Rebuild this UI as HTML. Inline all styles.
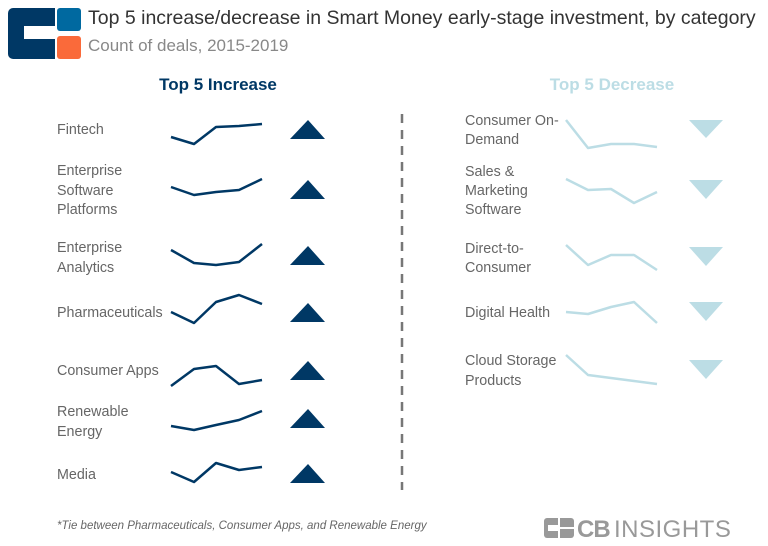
<!DOCTYPE html>
<html><head><meta charset="utf-8"><style>
body{margin:0;width:768px;height:546px;background:#fff;overflow:hidden;font-family:"Liberation Sans",sans-serif}
</style></head><body>
<svg width="768" height="546" xmlns="http://www.w3.org/2000/svg" style="position:absolute;left:0;top:0">
<rect x="8" y="8" width="47" height="51" rx="5" fill="#003865"/>
<rect x="37" y="8" width="20" height="51" fill="#003865"/>
<rect x="24" y="26" width="33" height="13" fill="#fff"/>
<rect x="55" y="8" width="2" height="51" fill="#fff"/>
<rect x="57" y="8" width="24" height="23" rx="3" fill="#0069a0"/>
<rect x="57" y="36" width="24" height="23" rx="3" fill="#fa6a3a"/>
<rect x="55" y="31" width="26" height="5" fill="#fff"/>
<text x="88" y="24" font-size="19.5" fill="#333">Top 5 increase/decrease in Smart Money early-stage investment, by category</text>
<text x="88" y="51" font-size="17" fill="#888">Count of deals, 2015-2019</text>
<text x="218" y="90" font-size="17" font-weight="bold" fill="#003865" text-anchor="middle">Top 5 Increase</text>
<text x="612" y="90" font-size="17" font-weight="bold" fill="#bcdde5" text-anchor="middle">Top 5 Decrease</text>
<line x1="402" y1="114" x2="402" y2="490" stroke="#777" stroke-width="2.5" stroke-dasharray="9,7"/>
<g font-size="14.3" fill="#666">
<text x="57" y="134">Fintech</text>
<text x="57" y="175">Enterprise</text><text x="57" y="195">Software</text><text x="57" y="214">Platforms</text>
<text x="57" y="252">Enterprise</text><text x="57" y="272">Analytics</text>
<text x="57" y="317">Pharmaceuticals</text>
<text x="57" y="375">Consumer Apps</text>
<text x="57" y="416">Renewable</text><text x="57" y="436">Energy</text>
<text x="57" y="479">Media</text>
<text x="465" y="125">Consumer On-</text><text x="465" y="144">Demand</text>
<text x="465" y="176">Sales &amp;</text><text x="465" y="195">Marketing</text><text x="465" y="214">Software</text>
<text x="465" y="253">Direct-to-</text><text x="465" y="272">Consumer</text>
<text x="465" y="317">Digital Health</text>
<text x="465" y="365">Cloud Storage</text><text x="465" y="385">Products</text>
</g>
<g fill="none" stroke="#003865" stroke-width="2.5" stroke-linejoin="round">
<polyline points="171,137 194,144 216,127 239,126 262,124"/>
<polyline points="171,187 194,195 216,192 239,190 262,179"/>
<polyline points="171,250 194,263 216,265 239,262 262,244"/>
<polyline points="171,312 194,323 216,302 239,295 262,304"/>
<polyline points="171,386 194,369 216,366 239,384 262,380"/>
<polyline points="171,426 194,430 216,425 239,420 262,411"/>
<polyline points="171,472 194,482 216,463 239,470 262,467"/>
</g>
<g fill="#003865">
<polygon points="290,139 308,120 325,139"/>
<polygon points="290,199 308,180 325,199"/>
<polygon points="290,265 308,246 325,265"/>
<polygon points="290,322 308,303 325,322"/>
<polygon points="290,380 308,361 325,380"/>
<polygon points="290,428 308,409 325,428"/>
<polygon points="290,483 308,464 325,483"/>
</g>
<g fill="none" stroke="#bcdde5" stroke-width="2.5" stroke-linejoin="round">
<polyline points="566,120 588,148 611,144 634,144 657,147"/>
<polyline points="566,179 588,190 611,189 634,203 657,192"/>
<polyline points="566,245 588,265 611,255 634,255 657,270"/>
<polyline points="566,312 588,314 611,307 634,302 657,323"/>
<polyline points="566,355 588,375 611,378 634,381 657,384"/>
</g>
<g fill="#bcdde5">
<polygon points="689,120 723,120 706,138"/>
<polygon points="689,180 723,180 706,199"/>
<polygon points="689,247 723,247 706,266"/>
<polygon points="689,302 723,302 706,321"/>
<polygon points="689,360 723,360 706,379"/>
</g>
<text x="57" y="529" font-size="11.5" font-style="italic" fill="#666">*Tie between Pharmaceuticals, Consumer Apps, and Renewable Energy</text>
<rect x="544" y="518" width="30" height="20" rx="3" fill="#999"/>
<rect x="558" y="518" width="2" height="20" fill="#fff"/><rect x="558" y="527" width="16" height="2" fill="#fff"/>
<rect x="548" y="525" width="10" height="6" fill="#fff"/>
<text x="577" y="537" font-size="24" fill="#999" font-weight="bold" letter-spacing="-1">CB</text>
<text x="614" y="537" font-size="24" fill="#999" letter-spacing="0.5">INSIGHTS</text>
</svg>
</body></html>
